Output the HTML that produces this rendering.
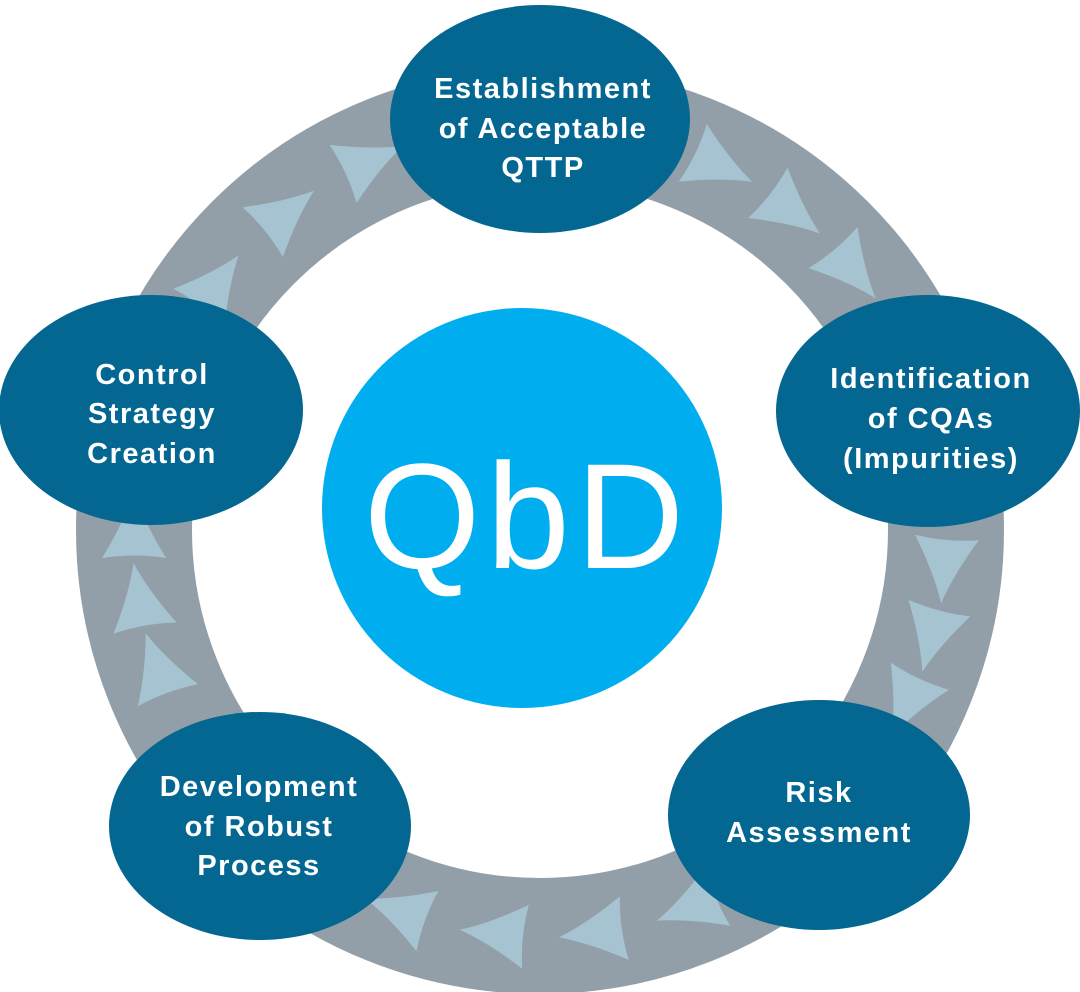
<!DOCTYPE html>
<html><head><meta charset="utf-8"><style>
html,body{margin:0;padding:0;background:#fff;}
svg{display:block}
text{font-family:"Liberation Sans",sans-serif;}
</style></head><body>
<svg width="1080" height="992" viewBox="0 0 1080 992" xmlns="http://www.w3.org/2000/svg">
<defs>
<path id="ar" d="M38,0 Q8,-10 -28,-32 Q-23,0 -28,32 Q8,10 38,0 Z" fill="#a6c3d2"/>
</defs>
<circle cx="540" cy="530" r="406" fill="none" stroke="#939fa8" stroke-width="116"/>
<g>
<g transform="rotate(-64 540 530)"><use href="#ar" transform="translate(946,530) rotate(90)"/></g>
<g transform="rotate(-52 540 530)"><use href="#ar" transform="translate(946,530) rotate(90)"/></g>
<g transform="rotate(-40 540 530)"><use href="#ar" transform="translate(946,530) rotate(90)"/></g>
<g transform="rotate(5 540 530)"><use href="#ar" transform="translate(946,530) rotate(90)"/></g>
<g transform="rotate(15 540 530)"><use href="#ar" transform="translate(946,530) rotate(90)"/></g>
<g transform="rotate(25 540 530)"><use href="#ar" transform="translate(946,530) rotate(90)"/></g>
<g transform="rotate(68 540 530)"><use href="#ar" transform="translate(946,530) rotate(90)"/></g>
<g transform="rotate(82 540 530)"><use href="#ar" transform="translate(946,530) rotate(90)"/></g>
<g transform="rotate(96 540 530)"><use href="#ar" transform="translate(946,530) rotate(90)"/></g>
<g transform="rotate(110 540 530)"><use href="#ar" transform="translate(946,530) rotate(90)"/></g>
<g transform="rotate(160 540 530)"><use href="#ar" transform="translate(946,530) rotate(90)"/></g>
<g transform="rotate(170 540 530)"><use href="#ar" transform="translate(946,530) rotate(90)"/></g>
<g transform="rotate(180 540 530)"><use href="#ar" transform="translate(946,530) rotate(90)"/></g>
<g transform="rotate(-143 540 530)"><use href="#ar" transform="translate(946,530) rotate(90)"/></g>
<g transform="rotate(-129 540 530)"><use href="#ar" transform="translate(946,530) rotate(90)"/></g>
<g transform="rotate(-115 540 530)"><use href="#ar" transform="translate(946,530) rotate(90)"/></g>
</g>
<circle cx="522" cy="508" r="200" fill="#00aeef"/>
<text x="527" y="568" text-anchor="middle" font-size="150" fill="#fff" letter-spacing="6">QbD</text>
<g fill="#036792">
<ellipse cx="540" cy="119" rx="150" ry="114"/>
<ellipse cx="928" cy="411" rx="152" ry="116"/>
<ellipse cx="819" cy="815" rx="151" ry="115"/>
<ellipse cx="260" cy="826" rx="151" ry="114"/>
<ellipse cx="151" cy="410" rx="152" ry="115"/>
</g>
<g fill="#fff" font-weight="bold" font-size="29" text-anchor="middle" letter-spacing="1.5">
<text x="543" y="98">Establishment</text>
<text x="543" y="138">of Acceptable</text>
<text x="543" y="177">QTTP</text>
<text x="931" y="388">Identification</text>
<text x="931" y="428">of CQAs</text>
<text x="931" y="468">(Impurities)</text>
<text x="819" y="802">Risk</text>
<text x="819" y="842">Assessment</text>
<text x="259" y="796">Development</text>
<text x="259" y="836">of Robust</text>
<text x="259" y="875">Process</text>
<text x="152" y="384">Control</text>
<text x="152" y="423">Strategy</text>
<text x="152" y="463">Creation</text>
</g>
</svg>
</body></html>
